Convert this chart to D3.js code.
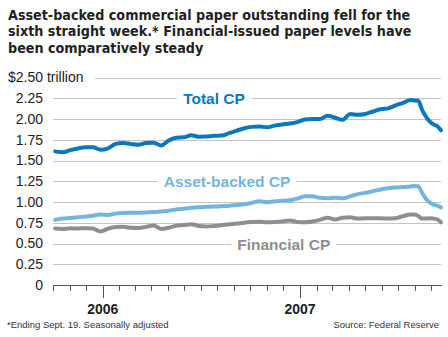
<!DOCTYPE html>
<meta charset="utf-8">
<script src="https://d3js.org/d3.v7.min.js"></script>
<style type="text/css">
body {
  margin: 0;
  background: #fff;
}

svg {
  display: block;
  font-family: "Liberation Sans", Arial, sans-serif;
}

.title {
  font-family: "DejaVu Sans Condensed", sans-serif;
  font-weight: bold;
  font-size: 14.2px;
  fill: #222;
}

.grid line {
  stroke: #c4c4c4;
  stroke-width: 1;
  shape-rendering: crispEdges;
}

.y.axis text {
  font-size: 14px;
  fill: #222;
}

.x.axis path,
.x.axis line {
  stroke: #555;
  shape-rendering: crispEdges;
}

.series {
  fill: none;
  stroke-width: 4;
  stroke-linejoin: round;
  stroke-linecap: round;
}

.series-label {
  font-weight: bold;
  font-size: 15.5px;
}

.note {
  font-size: 9.5px;
  fill: #333;
}
</style>
<body>
<script>

// weekly readings (Wednesdays), trillions of dollars
var dates = ["2005-10-05","2005-10-19","2005-11-02","2005-11-16","2005-11-30","2005-12-14","2005-12-28",
  "2006-01-11","2006-01-25","2006-02-08","2006-02-22","2006-03-08","2006-03-22","2006-04-05","2006-04-19",
  "2006-05-03","2006-05-17","2006-05-31","2006-06-14","2006-06-28","2006-07-12","2006-07-26","2006-08-09",
  "2006-08-23","2006-09-06","2006-09-20","2006-10-04","2006-10-18","2006-11-01","2006-11-15","2006-11-29",
  "2006-12-13","2006-12-27","2007-01-10","2007-01-24","2007-02-07","2007-02-21","2007-03-07","2007-03-21",
  "2007-04-04","2007-04-18","2007-05-02","2007-05-16","2007-05-30","2007-06-13","2007-06-27","2007-07-11",
  "2007-07-25","2007-08-01","2007-08-08","2007-08-15","2007-08-22","2007-08-29","2007-09-05","2007-09-12",
  "2007-09-19"];

var totalCP = [1.61,1.60,1.625,1.645,1.66,1.66,1.63,
  1.647,1.70,1.712,1.70,1.69,1.71,1.715,1.68,
  1.74,1.775,1.779,1.805,1.785,1.79,1.797,1.80,
  1.83,1.86,1.888,1.905,1.91,1.90,1.92,1.935,
  1.945,1.962,1.995,2.00,2.00,2.04,2.015,1.99,
  2.06,2.05,2.06,2.09,2.118,2.128,2.165,2.195,
  2.228,2.222,2.22,2.11,2.03,1.97,1.935,1.915,
  1.865];

var assetBackedCP = [0.785,0.80,0.807,0.815,0.826,0.835,0.85,
  0.843,0.86,0.868,0.871,0.871,0.874,0.879,0.885,
  0.895,0.91,0.918,0.93,0.938,0.942,0.945,0.95,
  0.956,0.965,0.972,0.99,1.01,0.998,1.008,1.015,
  1.022,1.04,1.07,1.07,1.05,1.045,1.05,1.045,
  1.068,1.095,1.11,1.13,1.15,1.165,1.175,1.18,
  1.186,1.192,1.19,1.11,1.04,0.995,0.97,0.955,
  0.935];

var financialCP = [0.68,0.675,0.683,0.68,0.685,0.68,0.645,
  0.68,0.70,0.703,0.69,0.688,0.70,0.718,0.675,
  0.69,0.715,0.722,0.733,0.71,0.705,0.711,0.72,
  0.731,0.74,0.751,0.758,0.763,0.755,0.758,0.765,
  0.778,0.76,0.755,0.765,0.785,0.81,0.79,0.81,
  0.815,0.80,0.803,0.803,0.803,0.80,0.805,0.83,
  0.85,0.85,0.83,0.80,0.80,0.803,0.80,0.79,
  0.755];

var yTicks = [0, 0.25, 0.5, 0.75, 1, 1.25, 1.5, 1.75, 2, 2.25, 2.5];
var yearLabels = ["2006", "2007"];

var titleLines = ["Asset-backed commercial paper outstanding fell for the",
  "sixth straight week.* Financial-issued paper levels have",
  "been comparatively steady"];

var width = 448, height = 337;
var margin = {top: 77.5, right: 7, bottom: 52, left: 53};

var parseDate = d3.timeParse("%Y-%m-%d");

var series = [
  {name: "Total CP", values: totalCP, color: "#0a78ba", labelDate: "2006-07-26", labelAt: 2.25},
  {name: "Asset-backed CP", values: assetBackedCP, color: "#74b5df", labelDate: "2006-08-19", labelAt: 1.25},
  {name: "Financial CP", values: financialCP, color: "#8e8e8e", labelDate: "2006-12-02", labelAt: 0.5}
];

var x = d3.scaleTime()
    .domain([parseDate("2005-10-01"), parseDate("2007-09-19")])
    .range([margin.left, width - margin.right]);

var y = d3.scaleLinear()
    .domain([0, 2.5])
    .range([height - margin.bottom, margin.top]);

var svg = d3.select("body").append("svg")
    .attr("width", width)
    .attr("height", height);

// title
svg.append("text")
    .attr("class", "title")
    .selectAll("tspan")
    .data(titleLines).enter()
    .append("tspan")
    .attr("x", 8)
    .attr("y", function(d, i) { return 19.5 + i * 16.5; })
    .text(function(d) { return d; });

// gridlines (the top one starts after the units label)
svg.append("g").attr("class", "grid")
    .selectAll("line")
    .data(yTicks.filter(function(d) { return d > 0; })).enter()
    .append("line")
    .attr("x1", function(d) { return d === 2.5 ? 95 : margin.left; })
    .attr("x2", width - margin.right)
    .attr("y1", function(d) { return Math.round(y(d)) + 0.5; })
    .attr("y2", function(d) { return Math.round(y(d)) + 0.5; });

// y labels
var yAxis = d3.axisLeft(y)
    .tickValues(yTicks.filter(function(d) { return d < 2.5; }))
    .tickSize(0)
    .tickPadding(10)
    .tickFormat(function(d) { return d === 0 ? "0" : d3.format(".2f")(d); });

svg.append("g").attr("class", "y axis")
    .attr("transform", "translate(" + margin.left + ",0)")
    .call(yAxis)
    .call(function(g) { g.select(".domain").remove(); });

svg.append("text")
    .attr("class", "y-unit")
    .attr("x", 8)
    .attr("y", y(2.5))
    .attr("dy", "0.32em")
    .style("font-size", "14px")
    .style("fill", "#222")
    .text("$2.50 trillion");

// x axis: monthly ticks, longer ones at each new year
var xAxis = d3.axisBottom(x)
    .ticks(d3.timeMonth.every(1))
    .tickSize(6)
    .tickSizeOuter(0)
    .tickFormat("");

var xg = svg.append("g").attr("class", "x axis")
    .attr("transform", "translate(0," + Math.round(y(0)) + ")")
    .call(xAxis);

xg.selectAll(".tick line")
    .attr("y2", function(d) { return d.getMonth() === 0 ? 13 : 6; });

svg.selectAll(".year")
    .data(yearLabels).enter()
    .append("text")
    .attr("class", "year")
    .attr("x", function(d) { return x(parseDate(d + "-01-01")); })
    .attr("y", 313.5)
    .attr("text-anchor", "middle")
    .style("font-weight", "bold")
    .style("font-size", "14px")
    .style("fill", "#222")
    .text(function(d) { return d; });

// lines
var line = d3.line()
    .x(function(d, i) { return x(parseDate(dates[i])); })
    .y(function(d) { return y(d); })
    .curve(d3.curveMonotoneX);

svg.selectAll(".series")
    .data(series).enter()
    .append("path")
    .attr("class", "series")
    .attr("d", function(d) { return line(d.values); })
    .style("stroke", function(d) { return d.color; });

// series labels sitting on a gridline, with a white knockout behind them
var labels = svg.selectAll(".label-g")
    .data(series).enter()
    .append("g")
    .attr("class", "label-g")
    .attr("transform", function(d) {
        return "translate(" + x(parseDate(d.labelDate)) + "," + (Math.round(y(d.labelAt)) + 0.5) + ")";
    });

labels.append("text")
    .attr("class", "series-label")
    .attr("text-anchor", "middle")
    .attr("dy", "0.36em")
    .style("fill", function(d) { return d.color; })
    .text(function(d) { return d.name; });

labels.each(function() {
    var g = d3.select(this);
    var b = g.select("text").node().getBBox();
    g.insert("rect", "text")
        .attr("x", b.x - 6)
        .attr("y", -4)
        .attr("width", b.width + 12)
        .attr("height", 8)
        .style("fill", "#fff");
});

// footnote and source
svg.append("text")
    .attr("class", "note")
    .attr("x", 7)
    .attr("y", 328)
    .text("*Ending Sept. 19. Seasonally adjusted");

svg.append("text")
    .attr("class", "note")
    .attr("x", 439)
    .attr("y", 328)
    .attr("text-anchor", "end")
    .text("Source: Federal Reserve");

</script>
</body>
</html>
